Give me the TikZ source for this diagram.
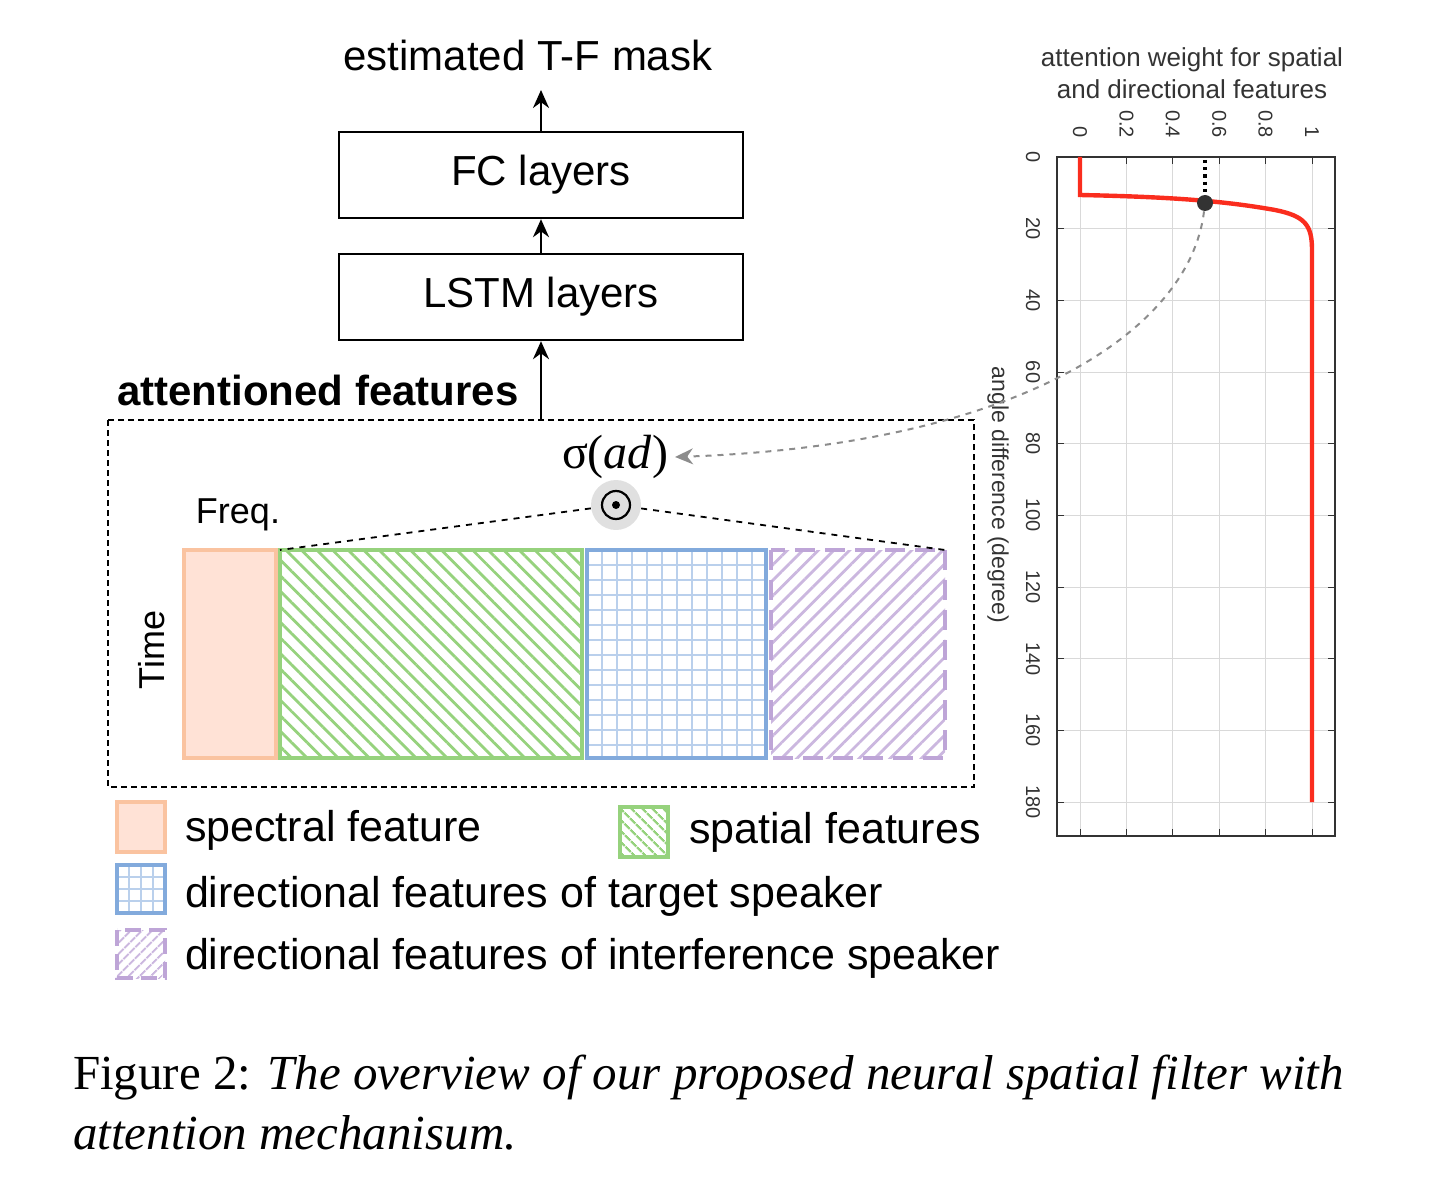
\documentclass[tikz,border=0pt]{standalone}
\usepackage{fontspec}
\setmainfont{Liberation Serif}
\newfontfamily\sansf{Liberation Sans}
\usetikzlibrary{patterns.meta,arrows.meta}
\definecolor{peachf}{RGB}{255,226,214}
\definecolor{peachs}{RGB}{250,195,160}
\definecolor{grn}{RGB}{150,210,125}
\definecolor{blu}{RGB}{130,170,220}
\definecolor{pur}{RGB}{190,165,215}
\definecolor{redc}{RGB}{250,45,30}
\begin{document}
\begin{tikzpicture}[x=0.5pt,y=-0.5pt,
 box/.style={draw,line width=1.2pt},
 arr/.style={-{Stealth[length=9pt,width=8pt]},line width=1.2pt},
 lab/.style={font=\sansf\fontsize{21}{25}\selectfont},
 leg/.style={font=\sansf\fontsize{21.5}{25}\selectfont,anchor=west},
 tk/.style={font=\sansf\fontsize{10}{11}\selectfont,text=black!80}]
\useasboundingbox (0,0) rectangle (1440,1182);
% left diagram
\node[lab] (mask) at (528,55) {estimated T-F mask};
\node[box,minimum width=202pt,minimum height=43pt,lab] (fc) at (541,175) {FC layers};
\node[box,minimum width=202pt,minimum height=43pt,lab] (lstm) at (541,297) {LSTM layers};
\coordinate (top) at (541,420);
\draw[arr] (fc.north) -- (541,90);
\draw[arr] (lstm.north) -- (fc.south);
\draw[arr] (top) -- (lstm.south);
\node[font=\sansf\bfseries\fontsize{21}{25}\selectfont] (att) at (318,390) {attentioned features};
\draw[densely dashed,line width=0.8pt] (108,420) rectangle (974,787);
\node[font=\fontsize{24}{27}\selectfont] (sig) at (615,457) {σ(\textit{ad})};
\node[circle,fill=black!12,minimum size=25pt,inner sep=0] (od) at (616,505) {};
\node[circle,draw,line width=1.1pt,minimum size=14pt,inner sep=0] (odi) at (616,505) {};
\fill (616,505) circle (4);
\node[font=\sansf\fontsize{18}{20}\selectfont] (freq) at (238,515) {Freq.};
\node[font=\sansf\fontsize{18}{20}\selectfont,rotate=90] (time) at (152,650) {Time};
\fill[peachf] (184,550) rectangle (276,758);
\draw[peachs,line width=2pt] (184,550) rectangle (276,758);
\fill[pattern={Lines[angle=-45,distance=5.5pt,line width=1.4pt]},pattern color=grn] (280,550) rectangle (582,758);
\draw[grn,line width=2pt] (280,550) rectangle (582,758);
\foreach \k in {1,...,11}{\draw[blu!55,line width=0.7pt] ({587+15*\k},550) -- ({587+15*\k},758);}
\foreach \k in {1,...,13}{\draw[blu!55,line width=0.7pt] (587,{550+15*\k}) -- (766,{550+15*\k});}
\draw[blu,line width=2pt] (587,550) rectangle (766,758);
\fill[pattern={Lines[angle=45,distance=5.5pt,line width=1.4pt]},pattern color=pur!80] (771,550) rectangle (945,758);
\draw[pur,line width=2.2pt,dash pattern=on 10pt off 5pt] (771,550) rectangle (945,758);
\coordinate (gl) at (280,550); \coordinate (gr) at (945,550);
\draw[dashed,line width=0.9pt] (od) -- (gl);
\draw[dashed,line width=0.9pt] (od) -- (gr);
% legend
\fill[peachf] (117,802) rectangle (165,852);
\draw[peachs,line width=2pt] (117,802) rectangle (165,852);
\node[leg] (l1) at (178,830) {spectral feature};
\fill[pattern={Lines[angle=-45,distance=4pt,line width=1.2pt]},pattern color=grn] (620,807) rectangle (668,857);
\draw[grn,line width=2pt] (620,807) rectangle (668,857);
\node[leg] (l2) at (682,832) {spatial features};
\foreach \k in {1,2,3}{\draw[blu!55,line width=0.7pt] ({117+12*\k},865) -- ({117+12*\k},913);
 \draw[blu!55,line width=0.7pt] (117,{865+12*\k}) -- (165,{865+12*\k});}
\draw[blu,line width=2pt] (117,865) rectangle (165,913);
\node[leg] (l3) at (178,896) {directional features of target speaker};
\fill[pattern={Lines[angle=45,distance=4pt,line width=1.2pt]},pattern color=pur!80] (117,930) rectangle (165,978);
\draw[pur,line width=2pt,dash pattern=on 8pt off 4pt] (117,930) rectangle (165,978);
\node[leg] (l4) at (178,958) {directional features of interference speaker};
% plot
\foreach \i in {0,...,5}{\draw[black!15,line width=0.5pt] ({1080+46.4*\i},157) -- ({1080+46.4*\i},836);}
\foreach \i in {0,...,9}{\draw[black!15,line width=0.5pt] (1057,{157+71.67*\i}) -- (1335,{157+71.67*\i});}
\draw[black!80,line width=0.8pt] (1057,157) rectangle (1335,836);
\foreach \i/\l in {0/0,1/0.2,2/0.4,3/0.6,4/0.8,5/1}{
 \draw[black!80] ({1080+46.4*\i},157) -- ({1080+46.4*\i},164);
 \draw[black!80] ({1080+46.4*\i},836) -- ({1080+46.4*\i},829);
 \node[tk,rotate=-90,anchor=east] at ({1080+46.4*\i},145) {\l};}
\foreach \i in {0,...,9}{
 \draw[black!80] (1057,{157+71.67*\i}) -- (1064,{157+71.67*\i});
 \draw[black!80] (1335,{157+71.67*\i}) -- (1328,{157+71.67*\i});
 \pgfmathtruncatemacro\v{20*\i}
 \node[tk,rotate=-90] at (1033,{157+71.67*\i}) {\v};}
\node[font=\sansf\fontsize{13}{16}\selectfont,align=center,text=black!80] (ptitle) at (1192,73) {attention weight for spatial\\ and directional features};
\node[font=\sansf\fontsize{11.5}{13}\selectfont,rotate=-90,text=black!80] (ylab) at (998,495) {angle difference (degree)};
\draw[redc,line width=2.2pt] (1080,157) -- (1080,195) .. controls (1180,197) and (1230,202) .. (1275,210) .. controls (1305,216) and (1312,225) .. (1312,250) -- (1312,802);
\draw[dotted,line width=1.6pt] (1205,160) -- (1205,203);
\node[circle,fill=black!80,inner sep=0,minimum size=8pt] (pt) at (1205,203) {};
\draw[black!45,dashed,line width=1pt,-{Stealth[length=9pt,width=8pt]}] (pt) .. controls (1190,330) and (1020,445) .. (sig.east);
% caption
\node[anchor=west,font=\fontsize{24.5}{30}\selectfont,align=left] (cap) at (66,1103) {Figure 2: \textit{The overview of our proposed neural spatial filter with}\\\textit{attention mechanisum.}};
\end{tikzpicture}
\end{document}
